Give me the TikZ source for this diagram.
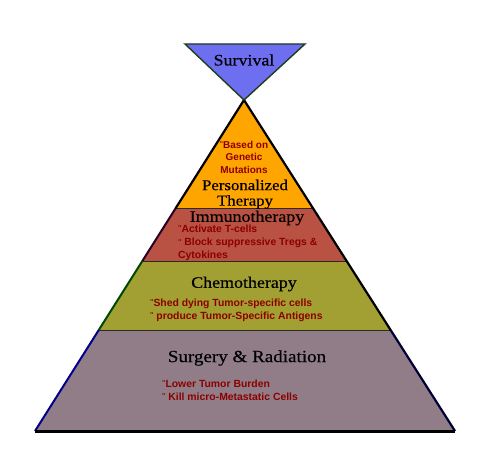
\documentclass[tikz,border=0pt]{standalone}
\usepackage{fontspec}
\setmainfont{Liberation Serif}[FakeStretch=1.12, FakeBold=0.4]
\newfontfamily\notefont{Liberation Sans}
\usetikzlibrary{calc}
\definecolor{survfill}{RGB}{110,110,240}
\definecolor{survline}{RGB}{30,60,30}
\definecolor{orangefill}{RGB}{255,165,0}
\definecolor{immfill}{RGB}{185,82,66}
\definecolor{chemofill}{RGB}{162,160,50}
\definecolor{surgfill}{RGB}{145,125,135}
\definecolor{notered}{RGB}{140,0,0}
\definecolor{bandline}{RGB}{40,45,35}
\tikzset{
  title/.style={font=\fontsize{16}{18}\selectfont, inner sep=0pt, text=black},
  note/.style={font=\notefont\bfseries\fontsize{10.4}{13.2}\selectfont, text=notered, inner sep=0pt, align=left, anchor=west},
  bandedge/.style={draw=bandline, line width=1pt},
}
\newcommand{\bmark}{{\fontsize{7}{7}\selectfont\raisebox{1.5pt}{"}}}
\begin{document}
\begin{tikzpicture}[x=1pt,y=-1pt]
\useasboundingbox (0,0) rectangle (484,457);
\fill[white] (0,0) rectangle (484,457);
\coordinate (A) at (244,100);
\coordinate (BL) at (35,431);
\coordinate (BR) at (455,431);
\coordinate (L1) at ($(A)!0.3293!(BL)$);
\coordinate (R1) at ($(A)!0.3293!(BR)$);
\coordinate (L2) at ($(A)!0.4864!(BL)$);
\coordinate (R2) at ($(A)!0.4864!(BR)$);
\coordinate (L3) at ($(A)!0.6949!(BL)$);
\coordinate (R3) at ($(A)!0.6949!(BR)$);
% bands
\fill[orangefill] (A) -- (R1) -- (L1) -- cycle;
\fill[immfill] (L1) -- (R1) -- (R2) -- (L2) -- cycle;
\fill[chemofill] (L2) -- (R2) -- (R3) -- (L3) -- cycle;
\fill[surgfill] (L3) -- (R3) -- (BR) -- (BL) -- cycle;
\draw[bandedge] (L1) -- (R1);
\draw[bandedge] (L2) -- (R2);
\draw[bandedge] (L3) -- (R3);
% outer edges
\draw[black, line width=2.2pt, line join=miter] (L1) -- (A) -- (R3);
\draw[black!80!blue, line width=2.2pt] (R3) -- (BR);
\draw[black!70!violet, line width=2pt] (L1) -- (L2);
\draw[black!60!green!70!black, line width=2pt] (L2) -- (L3);
\draw[blue!55!black, line width=2pt] (L3) -- (BL);
\draw[black, line width=3pt, line cap=butt] (BL) -- (BR);
% survival
\coordinate (S1) at (185,44);
\coordinate (S2) at (305,44);
\fill[survfill] (S1) -- (S2) -- (A) -- cycle;
\draw[survline, line width=1.4pt, line join=miter] (S1) -- (S2) -- (A) -- cycle;
\node[title] (surv) at (244,60) {Survival};
% personalized
\node[note, anchor=center, align=center, font=\notefont\bfseries\fontsize{10}{12.5}\selectfont] (pnote) at (244,157) {\bmark Based on\\Genetic\\Mutations};
\node[title, font=\fontsize{15}{18}\selectfont] (pers1) at (245,185) {Personalized};
\node[title, font=\fontsize{15}{18}\selectfont] (pers2) at (245,202) {Therapy};
% immuno
\node[title] (imm) at (247,218) {Immunotherapy};
\node[note] (inote) at (178,243) {\bmark Activate T-cells\\\bmark\ Block suppressive Tregs \&\\Cytokines};
% chemo
\node[title] (chemo) at (244,284) {Chemotherapy};
\node[note] (cnote) at (150,310) {\bmark Shed dying Tumor-specific cells\\\bmark\ produce Tumor-Specific Antigens};
% surgery
\node[title, font=\fontsize{17}{19}\selectfont] (surg) at (247,358) {Surgery \& Radiation};
\node[note] (snote) at (162,390) {\bmark Lower Tumor Burden\\\bmark\ Kill micro-Metastatic Cells};
\end{tikzpicture}
\end{document}
